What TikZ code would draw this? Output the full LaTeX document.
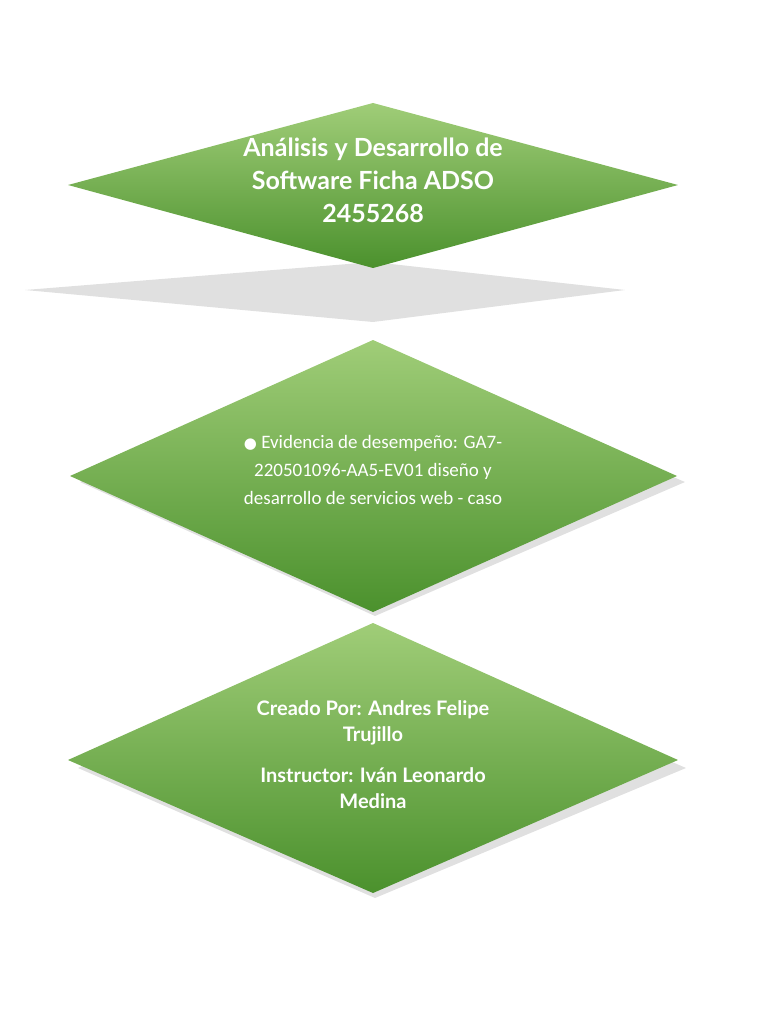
\documentclass[tikz,border=0pt]{standalone}
\usepackage{fontspec}
\setmainfont{Lato}
\newfontfamily\carlitofam{Carlito}
\newfontfamily\djfam{DejaVu Sans}
\definecolor{gtop}{RGB}{160,205,120}
\definecolor{gbot}{RGB}{75,145,45}
\tikzset{dia/.style={top color=gtop,bottom color=gbot,draw=none},
 shd/.style={fill=black,opacity=0.12},
 txt/.style={text=white,align=center}}
\begin{document}
\begin{tikzpicture}[x=1pt,y=-1pt]
\useasboundingbox (0,0) rectangle (768,1024);
% shadows
\fill[shd] (25,290) -- (373,262) -- (625,290) -- (373,322) -- cycle;
\fill[shd] (80,482) -- (375,350) -- (685,482) -- (375,616) -- cycle;
\fill[shd] (78,768) -- (375,632) -- (686,768) -- (375,898) -- cycle;
% diamonds
\shade[dia] (373,103) -- (678,185) -- (373,268) -- (68,185) -- cycle;
\shade[dia] (373,340) -- (677,476) -- (373,612) -- (70,476) -- cycle;
\shade[dia] (373,623) -- (678,760) -- (373,893) -- (68,760) -- cycle;
\node[txt,font=\fontsize{25}{33}\selectfont\bfseries] (t1) at (373,180) {Análisis y Desarrollo de\\Software Ficha ADSO\\2455268};
\node[txt,font=\carlitofam\fontsize{19}{28}\selectfont] (t2) at (373,470) {{\djfam\fontsize{15}{28}\selectfont ●} Evidencia de desempeño: GA7-\\220501096-AA5-EV01 diseño y\\desarrollo de servicios web - caso};
\node[txt,font=\fontsize{20}{26}\selectfont\bfseries] (t3) at (373,723) {Creado Por: Andres Felipe\\Trujillo};
\node[txt,font=\fontsize{20}{26}\selectfont\bfseries] (t4) at (373,788) {Instructor: Iván Leonardo\\Medina};
\end{tikzpicture}
\end{document}
